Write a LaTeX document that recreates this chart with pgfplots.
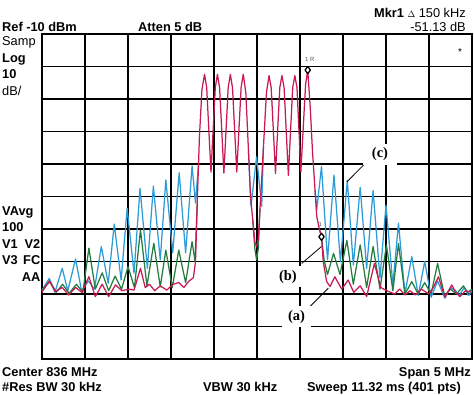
\documentclass[border=0pt]{standalone}
\usepackage{fontspec}
\setmainfont{Liberation Sans}
\newfontfamily\labfont{Liberation Serif}
\usepackage{pgfplots}
\pgfplotsset{compat=1.18}
\definecolor{trRed}{RGB}{200,25,85}
\definecolor{trBlue}{RGB}{45,155,215}
\definecolor{trGreen}{RGB}{35,125,60}
\begin{document}
\begin{tikzpicture}[x=1pt,y=1pt]
\useasboundingbox (0,0) rectangle (474,395);
\begin{axis}[at={(42pt,36pt)}, anchor=south west, scale only axis,
  width=430pt, height=325pt, xmin=0, xmax=10, ymin=-110, ymax=-10,
  xtick={0,1,...,10}, ytick={-110,-100,...,-10},
  xticklabel=\empty, yticklabel=\empty, major tick length=0pt,
  grid=major, major grid style={black, line width=1.2pt},
  axis line style={black, line width=2.2pt}, clip=false,
  unbounded coords=jump,
  every axis plot/.append style={line width=1.25pt, line join=round}]
% blue trace (c); hidden under (a) where they coincide
\addplot[trBlue, mark=none] coordinates {
(0.00,-88.8) (0.06,-87.5) (0.17,-85.2) (0.30,-89.5) (0.47,-82.1) (0.60,-89.0)
(0.78,-79.2) (0.92,-89.0) (1.08,-86.0) (1.22,-88.5) (1.38,-75.4) (1.54,-86.7)
(1.68,-68.5) (1.84,-85.7) (1.98,-63.6) (2.14,-83.6) (2.28,-57.5) (2.45,-82.1)
(2.59,-56.8) (2.75,-79.5) (2.88,-54.9) (3.04,-77.3) (3.19,-52.7) (3.34,-77.3)
(3.49,-50.6) (3.57,-62) (3.64,-50)
(4.0,nan)
(4.80,-45.5) (4.86,-63) (4.99,-47.8) (5.11,-63) (5.15,-44.8)
(6.0,nan)
(6.35,-58.1) (6.39,-64)
(6.50,-50.8) (6.64,-79.5) (6.79,-53.4) (6.94,-80.1) (7.10,-55.1) (7.24,-81.1)
(7.40,-57.2) (7.55,-82.1) (7.70,-58.2) (7.86,-85.1) (8.00,-62.6) (8.16,-87.2)
(8.29,-68.2) (8.44,-89.9) (8.60,-78.5) (8.75,-90.5) (8.90,-80.0) (9.05,-91.0)
(9.20,-86.0) (9.37,-91.3) (9.50,-88.0) (9.62,-89.0) (9.70,-90.5) (9.82,-88.0)
(9.92,-90.5) (10.0,-89.0)};
% green trace (b); hidden under (a) where they coincide
\addplot[trGreen, mark=none] coordinates {
(0.00,-89.0) (0.05,-88.0) (0.19,-86.2) (0.33,-89.5) (0.48,-87.0) (0.63,-89.8)
(0.80,-87.0) (0.95,-89.5) (1.09,-75.9) (1.24,-88.5) (1.40,-83.5) (1.55,-89.0)
(1.70,-84.5) (1.85,-88.5) (2.00,-81.6) (2.15,-88.0) (2.29,-70.3) (2.44,-87.5)
(2.60,-74.4) (2.75,-87.8) (2.88,-76.5) (3.03,-88.0) (3.18,-76.5) (3.34,-86.5)
(3.49,-73.9) (3.56,-80) (3.61,-62)
(4.0,nan)
(4.90,-67) (4.95,-76) (4.99,-79.5) (5.03,-76) (5.07,-63.7)
(6.0,nan)
(6.45,-70) (6.50,-72.4)
(6.56,-79.5) (6.64,-84) (6.78,-77.5) (6.93,-84) (7.09,-73.5) (7.24,-87)
(7.40,-74.9) (7.55,-88) (7.70,-75.4) (7.86,-88.5) (8.01,-74.9) (8.16,-89)
(8.29,-74.5) (8.44,-90) (8.60,-86.2) (8.75,-90) (8.90,-86.5) (9.05,-90)
(9.20,-80.6) (9.36,-90.5) (9.50,-88.5) (9.64,-90) (9.80,-87.5) (9.90,-89.5)
(10.0,-88.5)};
% red trace (a)
\addplot[trRed, mark=none] coordinates {
(0.00,-89.5) (0.03,-88.8) (0.17,-86.0) (0.31,-89.3) (0.47,-88.0) (0.62,-90.3)
(0.78,-88.0) (0.93,-89.5) (1.09,-84.7) (1.24,-90.8) (1.40,-87.0) (1.55,-90.8)
(1.71,-87.2) (1.86,-89.0) (2.02,-88.5) (2.14,-88.8) (2.29,-82.1) (2.40,-88.0)
(2.50,-87.0) (2.62,-89.0) (2.75,-87.5) (2.90,-88.8) (3.05,-87.0) (3.18,-86.5)
(3.30,-88.0) (3.42,-86.0) (3.52,-85.0) (3.57,-80) (3.61,-62)
(3.66,-42) (3.72,-27) (3.78,-22.4) (3.83,-26.5) (3.93,-52.5) (4.03,-26.5) (4.08,-22.4)
(4.13,-26.5) (4.23,-52.8) (4.33,-26.5) (4.38,-22.4) (4.43,-26.5) (4.53,-52.5) (4.63,-26.5)
(4.68,-22.4) (4.74,-28)
(4.85,-60) (4.95,-74) (4.99,-75.5) (5.03,-73) (5.12,-52)
(5.22,-28) (5.28,-22.8) (5.33,-26.5) (5.43,-52.9) (5.53,-26.5) (5.58,-22.8) (5.63,-26.5)
(5.73,-53.5) (5.83,-26.5) (5.88,-22.8) (5.93,-26.5) (6.02,-52.4) (6.13,-25.5) (6.18,-21.1)
(6.24,-33) (6.29,-46) (6.39,-66.2) (6.45,-70) (6.50,-72.4)
(6.54,-80) (6.62,-86.2) (6.70,-87.7) (6.81,-84.7) (6.97,-88.5) (7.12,-85.7)
(7.25,-89.5) (7.40,-87.5) (7.55,-90.8) (7.73,-80.6) (7.88,-88.0) (8.02,-89.0)
(8.20,-90.0) (8.32,-88.5) (8.44,-90.3) (8.56,-89.0) (8.68,-90.3) (8.82,-88.5)
(9.00,-90.0) (9.10,-88.0) (9.22,-84.7) (9.37,-91.0) (9.53,-87.2) (9.62,-89.5)
(9.72,-90.8) (9.85,-89.0) (10.0,-89.5)};
% markers
\addplot[only marks, mark=diamond*, mark size=3.6pt,
  mark options={fill=white, draw=black, line width=1.3pt}]
  coordinates {(6.18,-21.1) (6.50,-72.4)};
\node[font=\fontsize{6}{7}\selectfont, text=black!65] at (axis cs:6.23,-17.9) {1 R};
\node[font=\fontsize{6}{7}\selectfont, text=black!65] at (axis cs:6.47,-68.6) {1};
\node[font=\fontsize{10}{11}\selectfont] at (axis cs:9.72,-15.6) {*};
% annotation labels
\draw[black, line width=0.8pt] (axis cs:7.48,-50.3) -- (axis cs:7.09,-55.5);
\draw[black, line width=0.8pt] (axis cs:6.04,-80.6) -- (axis cs:6.50,-75.4);
\draw[black, line width=0.8pt] (axis cs:6.23,-93.9) -- (axis cs:6.66,-88.2);
\node[fill=white, inner xsep=9pt, inner ysep=4pt, font=\labfont\bfseries\fontsize{14.5}{16}\selectfont] at (axis cs:7.86,-47.0) {(c)};
\node[fill=white, inner xsep=5pt, inner ysep=4pt, font=\labfont\bfseries\fontsize{14.5}{16}\selectfont] at (axis cs:5.72,-84.7) {(b)};
\node[fill=white, inner xsep=6pt, inner ysep=4pt, font=\labfont\bfseries\fontsize{14.5}{16}\selectfont] at (axis cs:5.92,-97.0) {(a)};
\end{axis}
\begin{scope}[every node/.style={inner sep=0pt, font=\fontsize{12.8}{14}\selectfont}]
\node[anchor=base west] at (2,363.3) {\bfseries Ref -10 dBm};
\node[anchor=base west] at (138,363.3) {\bfseries Atten 5 dB};
\node[anchor=base east] at (466,377.7) {\textbf{Mkr1} $\scriptstyle\Delta$ 150 kHz};
\node[anchor=base east] at (466,363.3) {-51.13 dB};
\node[anchor=base west] at (2,349) {Samp};
\node[anchor=base west] at (2,332.5) {\bfseries Log};
\node[anchor=base west] at (2,316) {\bfseries 10};
\node[anchor=base west] at (2,299.5) {dB/};
\node[anchor=base west] at (2,179.8) {\bfseries VAvg};
\node[anchor=base west] at (2,163.3) {\bfseries 100};
\node[anchor=base west] at (2,146.8) {\bfseries V1};
\node[anchor=base east] at (40.5,146.8) {\bfseries V2};
\node[anchor=base west] at (2,130.3) {\bfseries V3};
\node[anchor=base east] at (40.5,130.3) {\bfseries FC};
\node[anchor=base east] at (40.5,113.8) {\bfseries AA};
\node[anchor=base west] at (2,18.3) {\bfseries Center 836 MHz};
\node[anchor=base east] at (471,18.3) {\bfseries Span 5 MHz};
\node[anchor=base west] at (2,3.3) {\bfseries \#Res BW 30 kHz};
\node[anchor=base west] at (203,3.3) {\bfseries VBW 30 kHz};
\node[anchor=base west] at (307,3.3) {\bfseries Sweep 11.32 ms (401 pts)};
\end{scope}
\end{tikzpicture}
\end{document}
